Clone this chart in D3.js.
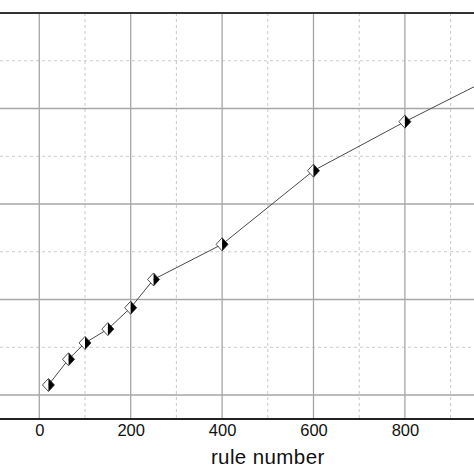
<!DOCTYPE html>
<html>
<head>
<meta charset="utf-8">
<script src="https://cdn.jsdelivr.net/npm/d3@7"></script>
<style>
  body { margin: 0; background: #fff; }
  svg { display: block; }
</style>
</head>
<body>
<div id="chart"></div>
<script>
// rule number vs. value (y labels are outside the visible crop)
var ruleNumbers = [20, 64, 100, 150, 200, 250, 400, 600, 800, 1000];
var values = [1.105, 1.374, 1.545, 1.69, 1.914, 2.21, 2.578, 3.349, 3.862, 4.345];
var xTicks = [0, 200, 400, 600, 800];
var xMinorTicks = [100, 300, 500, 700, 900];
var yTicks = [1, 2, 3, 4];
var yMinorTicks = [1.5, 2.5, 3.5, 4.5];

var W = 474, H = 474;
var plotTop = 13, plotBottom = 419;

var data = ruleNumbers.map(function (r, i) { return {x: r, y: values[i]}; });

var xScale = d3.scaleLinear().domain([0, 1000]).range([39.3, 496.3]);
var yScale = d3.scaleLinear().domain([1, 5]).range([395, 13]);

var svg = d3.select('#chart').append('svg')
    .attr('width', W)
    .attr('height', H);

svg.append('defs').append('clipPath')
    .attr('id', 'plotClip')
    .append('rect')
    .attr('x', 0).attr('y', plotTop)
    .attr('width', W).attr('height', plotBottom - plotTop);

var plot = svg.append('g').attr('clip-path', 'url(#plotClip)');

// minor dashed grid
plot.selectAll('.vminor').data(xMinorTicks).enter().append('line')
    .attr('x1', function (d) { return xScale(d); })
    .attr('x2', function (d) { return xScale(d); })
    .attr('y1', plotTop).attr('y2', plotBottom)
    .attr('stroke', '#c8c8c8').attr('stroke-width', 1)
    .attr('stroke-dasharray', '3,3');

plot.selectAll('.hminor').data(yMinorTicks).enter().append('line')
    .attr('x1', 0).attr('x2', W)
    .attr('y1', function (d) { return yScale(d); })
    .attr('y2', function (d) { return yScale(d); })
    .attr('stroke', '#c8c8c8').attr('stroke-width', 1)
    .attr('stroke-dasharray', '3,3');

// major solid grid
plot.selectAll('.vmajor').data(xTicks).enter().append('line')
    .attr('x1', function (d) { return xScale(d); })
    .attr('x2', function (d) { return xScale(d); })
    .attr('y1', plotTop).attr('y2', plotBottom)
    .attr('stroke', '#a6a6a6').attr('stroke-width', 1.3);

plot.selectAll('.hmajor').data(yTicks).enter().append('line')
    .attr('x1', 0).attr('x2', W)
    .attr('y1', function (d) { return yScale(d); })
    .attr('y2', function (d) { return yScale(d); })
    .attr('stroke', '#a6a6a6').attr('stroke-width', 1.3);

// data line
var line = d3.line()
    .x(function (d) { return xScale(d.x); })
    .y(function (d) { return yScale(d.y); });

plot.append('path')
    .datum(data)
    .attr('d', line)
    .attr('fill', 'none')
    .attr('stroke', '#4a4a4a')
    .attr('stroke-width', 1);

// half-filled diamond markers
var hw = 6, hh = 6.5;
var marker = plot.selectAll('.marker').data(data).enter().append('g')
    .attr('class', 'marker')
    .attr('transform', function (d) {
        return 'translate(' + xScale(d.x) + ',' + yScale(d.y) + ')';
    });

marker.append('path')
    .attr('d', 'M0,' + (-hh) + 'L' + (-hw) + ',0L0,' + hh + 'Z')
    .attr('fill', '#fff');
marker.append('path')
    .attr('d', 'M0,' + (-hh) + 'L' + hw + ',0L0,' + hh + 'Z')
    .attr('fill', '#000');
marker.append('path')
    .attr('d', 'M0,' + (-hh) + 'L' + hw + ',0L0,' + hh + 'L' + (-hw) + ',0Z')
    .attr('fill', 'none')
    .attr('stroke', '#222')
    .attr('stroke-width', 0.8);

// frame lines
svg.append('line')
    .attr('x1', 0).attr('x2', W)
    .attr('y1', plotTop).attr('y2', plotTop)
    .attr('stroke', '#333').attr('stroke-width', 2);

svg.append('line')
    .attr('x1', 0).attr('x2', W)
    .attr('y1', plotBottom).attr('y2', plotBottom)
    .attr('stroke', '#222').attr('stroke-width', 2);

// x axis labels
var xAxis = d3.axisBottom(xScale)
    .tickValues(xTicks)
    .tickSize(0)
    .tickPadding(0)
    .tickFormat(d3.format('d'));

var axisG = svg.append('g')
    .attr('transform', 'translate(0,' + plotBottom + ')')
    .call(xAxis);
axisG.select('.domain').remove();
axisG.selectAll('text')
    .attr('dy', null)
    .attr('y', 17)
    .style('font-family', '"Liberation Sans", Arial, sans-serif')
    .style('font-size', '16.5px')
    .attr('fill', '#111');

svg.append('text')
    .attr('x', xScale(500))
    .attr('y', 464)
    .attr('text-anchor', 'middle')
    .style('font-family', '"Liberation Sans", Arial, sans-serif')
    .style('font-size', '20.5px')
    .style('letter-spacing', '0.4px')
    .attr('fill', '#111')
    .text('rule number');
</script>
</body>
</html>
